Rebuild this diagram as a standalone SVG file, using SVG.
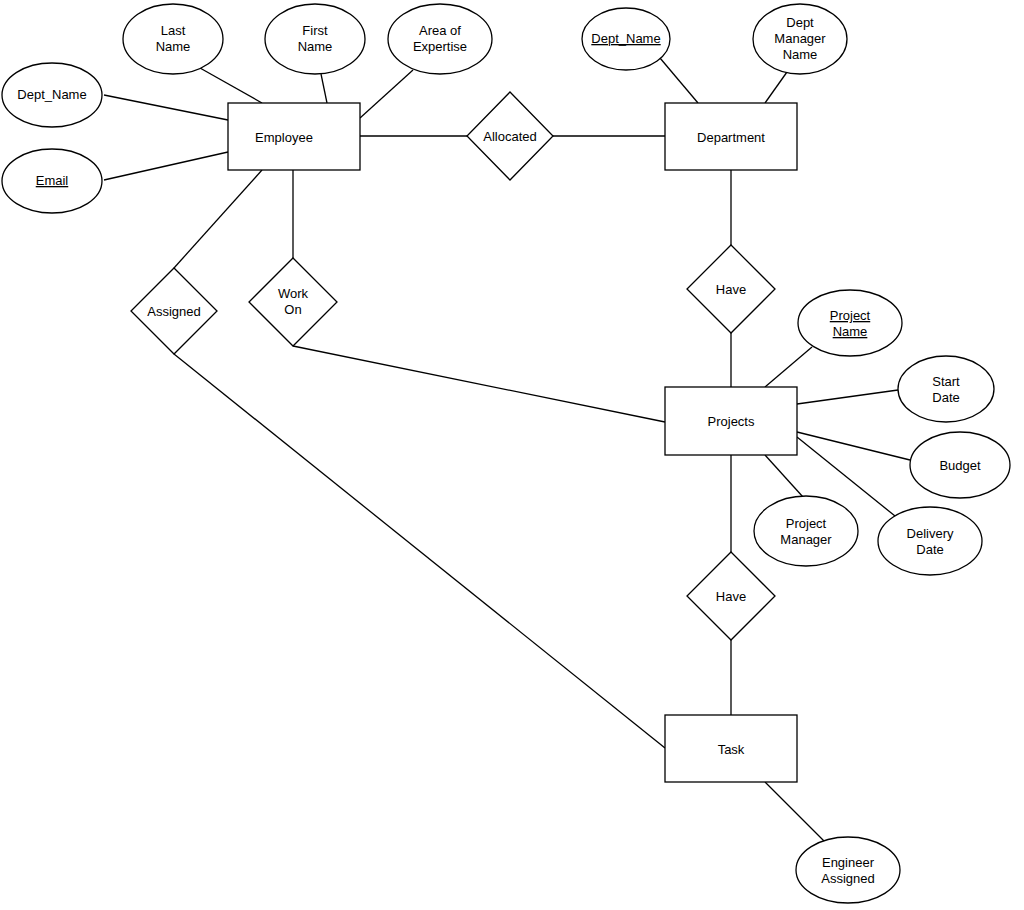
<svg xmlns="http://www.w3.org/2000/svg" width="1024" height="910" viewBox="0 0 1024 910">
<style>
.s{fill:#fff;stroke:#000;stroke-width:1.3}
line{stroke:#000;stroke-width:1.3}
text{font-family:"Liberation Sans",Arial,sans-serif;font-size:13px;text-anchor:middle;fill:#000}
.u{text-decoration:underline}
</style>
<rect width="1024" height="910" fill="#fff"/>
<g id="connectors">
<line x1="200" y1="68" x2="262" y2="103"/>
<line x1="321" y1="74" x2="327" y2="103"/>
<line x1="413" y1="70" x2="360" y2="118"/>
<line x1="104" y1="95" x2="228" y2="120"/>
<line x1="104" y1="180" x2="228" y2="152"/>
<line x1="360" y1="136" x2="467" y2="136"/>
<line x1="553" y1="136" x2="665" y2="136"/>
<line x1="660" y1="58" x2="698" y2="103"/>
<line x1="787" y1="72" x2="765" y2="103"/>
<line x1="731" y1="170" x2="731" y2="245"/>
<line x1="731" y1="333" x2="731" y2="387"/>
<line x1="293" y1="170" x2="293" y2="258"/>
<line x1="293" y1="346" x2="665" y2="422"/>
<line x1="262" y1="170" x2="174" y2="268"/>
<line x1="174" y1="354" x2="665" y2="748"/>
<line x1="812" y1="347" x2="765" y2="387"/>
<line x1="898" y1="390" x2="797" y2="404"/>
<line x1="910" y1="460" x2="797" y2="432"/>
<line x1="895" y1="516" x2="797" y2="437"/>
<line x1="803" y1="497" x2="765" y2="455"/>
<line x1="731" y1="455" x2="731" y2="552"/>
<line x1="731" y1="640" x2="731" y2="715"/>
<line x1="765" y1="782" x2="825" y2="842"/>
</g>
<g id="employee"><rect class="s" x="228" y="103" width="132" height="67"/><text x="284" y="142">Employee</text></g>
<g id="department"><rect class="s" x="665" y="103" width="132" height="67"/><text x="731" y="142">Department</text></g>
<g id="projects"><rect class="s" x="665" y="387" width="132" height="68"/><text x="731" y="426">Projects</text></g>
<g id="task"><rect class="s" x="665" y="715" width="132" height="67"/><text x="731" y="754">Task</text></g>
<g id="lastname"><ellipse class="s" cx="173" cy="39" rx="50" ry="35"/><text x="173" y="35">Last</text><text x="173" y="51">Name</text></g>
<g id="firstname"><ellipse class="s" cx="315" cy="39" rx="50" ry="35"/><text x="315" y="35">First</text><text x="315" y="51">Name</text></g>
<g id="expertise"><ellipse class="s" cx="440" cy="39" rx="52" ry="35"/><text x="440" y="35">Area of</text><text x="440" y="51">Expertise</text></g>
<g id="deptname1"><ellipse class="s" cx="52" cy="95" rx="50" ry="32"/><text x="52" y="99">Dept_Name</text></g>
<g id="email"><ellipse class="s" cx="52" cy="181" rx="50" ry="32"/><text class="u" x="52" y="185">Email</text></g>
<g id="deptname2"><ellipse class="s" cx="626" cy="39" rx="44" ry="31"/><text class="u" x="626" y="43">Dept_Name</text></g>
<g id="deptmanager"><ellipse class="s" cx="800" cy="39" rx="47" ry="35"/><text x="800" y="27">Dept</text><text x="800" y="43">Manager</text><text x="800" y="59">Name</text></g>
<g id="projectname"><ellipse class="s" cx="850" cy="323" rx="52" ry="33"/><text class="u" x="850" y="320">Project</text><text class="u" x="850" y="336">Name</text></g>
<g id="startdate"><ellipse class="s" cx="946" cy="389" rx="48" ry="33"/><text x="946" y="386">Start</text><text x="946" y="402">Date</text></g>
<g id="budget"><ellipse class="s" cx="960" cy="465" rx="50" ry="33"/><text x="960" y="470">Budget</text></g>
<g id="projectmanager"><ellipse class="s" cx="806" cy="531" rx="52" ry="35"/><text x="806" y="528">Project</text><text x="806" y="544">Manager</text></g>
<g id="deliverydate"><ellipse class="s" cx="930" cy="541" rx="52" ry="34"/><text x="930" y="538">Delivery</text><text x="930" y="554">Date</text></g>
<g id="engineer"><ellipse class="s" cx="848" cy="870" rx="52" ry="33"/><text x="848" y="867">Engineer</text><text x="848" y="883">Assigned</text></g>
<g id="allocated"><polygon class="s" points="510,92 553,136 510,180 467,136"/><text x="510" y="141">Allocated</text></g>
<g id="have1"><polygon class="s" points="731,245 775,289 731,333 687,289"/><text x="731" y="294">Have</text></g>
<g id="have2"><polygon class="s" points="731,552 775,596 731,640 687,596"/><text x="731" y="601">Have</text></g>
<g id="workon"><polygon class="s" points="293,258 337,302 293,346 249,302"/><text x="293" y="298">Work</text><text x="293" y="314">On</text></g>
<g id="assigned"><polygon class="s" points="174,268 217,311 174,354 131,311"/><text x="174" y="316">Assigned</text></g>
</svg>
